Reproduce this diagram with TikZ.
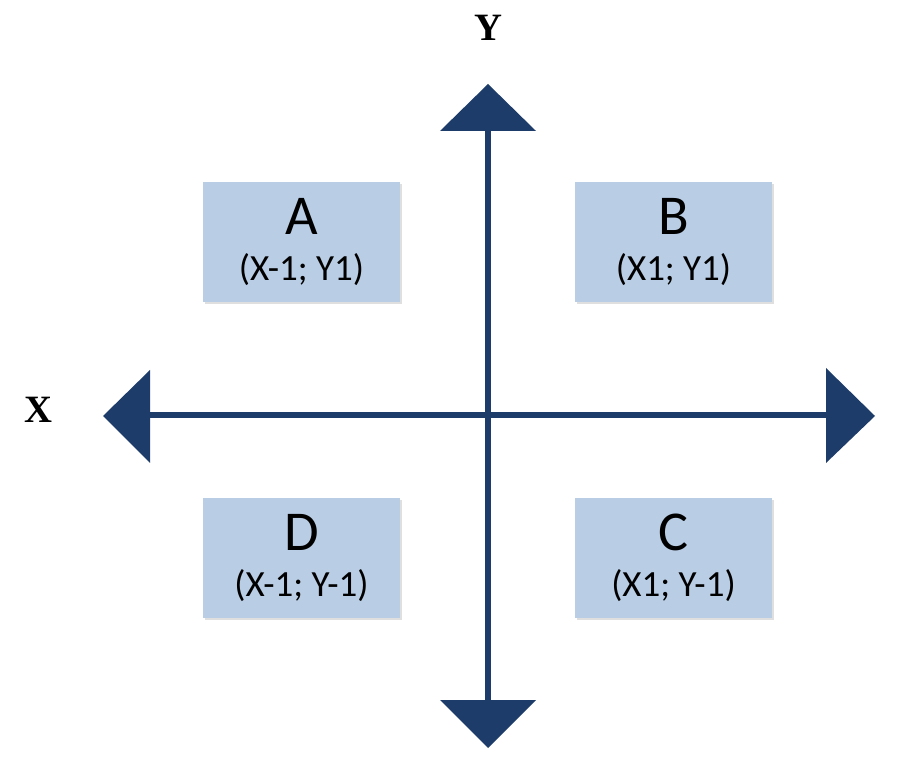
\documentclass[tikz,border=0pt]{standalone}
\usepackage{fontspec}
\setmainfont{Liberation Serif}
\newfontfamily\boxfont{Carlito}
\usetikzlibrary{shadows}
\definecolor{axiscol}{RGB}{30,60,105}
\definecolor{boxcol}{RGB}{185,205,229}
\tikzset{
  qbox/.style={fill=boxcol, draw=none, minimum width=1.97cm, minimum height=1.19cm, inner sep=0pt,
     drop shadow={shadow xshift=0.02cm, shadow yshift=-0.02cm, opacity=0.25}, align=center, font=\boxfont},
  axisline/.style={draw=axiscol, line width=0.06cm},
  tip/.style={fill=axiscol, draw=none},
  axlabel/.style={font=\bfseries\fontsize{11pt}{12pt}\selectfont}
}
\begin{document}
\begin{tikzpicture}[x=0.01cm,y=-0.01cm]
\useasboundingbox (0,0) rectangle (915,761);
\coordinate (L) at (150,415); \coordinate (R) at (828,415);
\coordinate (T) at (488,130); \coordinate (Bt) at (488,700);
\draw[axisline] (L) -- (R);
\draw[axisline] (T) -- (Bt);
\fill[tip] (103,416) -- (150,370) -- (150,463) -- cycle;
\fill[tip] (875,416) -- (826,368) -- (826,463) -- cycle;
\fill[tip] (488,84) -- (440,131) -- (536,131) -- cycle;
\fill[tip] (488,748) -- (440,700) -- (536,700) -- cycle;
\node[qbox] (A) at (301.5,242) {{\fontsize{16pt}{18pt}\selectfont A}\\[1pt]{\fontsize{10.5pt}{12pt}\selectfont (X-1; Y1)}};
\node[qbox] (B) at (673.5,242) {{\fontsize{16pt}{18pt}\selectfont B}\\[1pt]{\fontsize{10.5pt}{12pt}\selectfont (X1; Y1)}};
\node[qbox] (D) at (301.5,558) {{\fontsize{16pt}{18pt}\selectfont D}\\[1pt]{\fontsize{10.5pt}{12pt}\selectfont (X-1; Y-1)}};
\node[qbox] (C) at (673.5,558) {{\fontsize{16pt}{18pt}\selectfont C}\\[1pt]{\fontsize{10.5pt}{12pt}\selectfont (X1; Y-1)}};
\node[axlabel] (xl) at (38,410) {X};
\node[axlabel] (yl) at (488,28) {Y};
\end{tikzpicture}
\end{document}
